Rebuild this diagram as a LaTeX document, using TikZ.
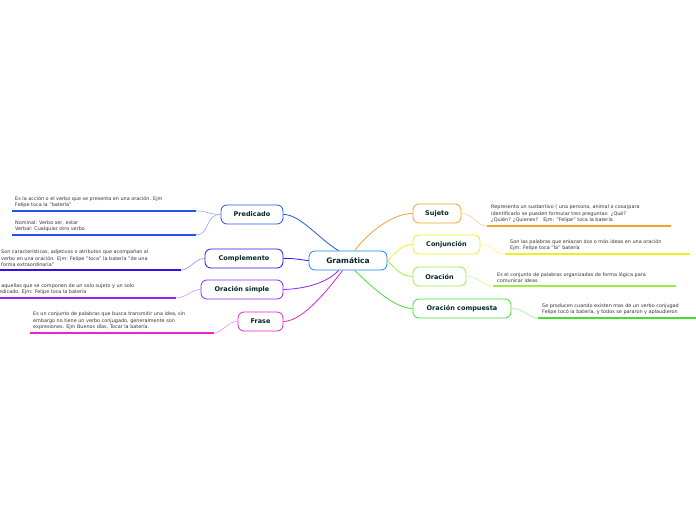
\documentclass[tikz,border=0pt]{standalone}
\usepackage{fontspec}
\setmainfont{DejaVu Sans}
\begin{document}
\begin{tikzpicture}[x=1pt,y=-1pt,
 topic/.style={draw=#1,line width=0.8pt,rounded corners=6pt,fill=white,minimum height=19pt,font=\fontsize{6.5}{8}\selectfont\bfseries,text=black!70!teal,inner xsep=8pt},
 desc/.style={anchor=south west,align=left,font=\fontsize{4.9}{6.6}\selectfont,text=black!80,inner sep=1pt},
 ul/.style={draw=#1,line width=1.2pt}]
\useasboundingbox (0,0) rectangle (696,520);
\definecolor{cpred}{HTML}{2255EE}
\definecolor{ccomp}{HTML}{3311EE}
\definecolor{csimp}{HTML}{9922EE}
\definecolor{cfra}{HTML}{EE22CC}
\definecolor{csuj}{HTML}{F5A030}
\definecolor{cconj}{HTML}{EEEE22}
\definecolor{cora}{HTML}{99EE44}
\definecolor{ccmp}{HTML}{44DD33}
\node[topic=cpred!70!cyan,minimum width=78pt,font=\fontsize{7.5}{9}\selectfont\bfseries] (g) at (348,260.5) {Gramática};
\node[topic=cpred,minimum width=62pt] (pred) at (252,214.5) {Predicado};
\node[topic=ccomp,minimum width=78pt] (comp) at (244,258.5) {Complemento};
\node[topic=csimp,minimum width=82pt] (simp) at (242,289.5) {Oración simple};
\node[topic=cfra,minimum width=45pt] (fra) at (260.5,321.5) {Frase};
\node[topic=csuj,minimum width=48pt] (suj) at (437,213.5) {Sujeto};
\node[topic=cconj,minimum width=67pt] (conj) at (446.5,244.5) {Conjunción};
\node[topic=cora,minimum width=53pt] (ora) at (439.5,276.5) {Oración};
\node[topic=ccmp,minimum width=98pt] (cmp) at (462,308.5) {Oración compuesta};
% connectors
\begin{scope}[line width=0.8pt]
\draw[cpred] (g.north west)++(30,0) .. controls (320,240) and (300,214) .. (pred.east);
\draw[ccomp] (g.west) .. controls (300,260) and (295,258) .. (comp.east);
\draw[csimp] (g.south west)++(30,0) .. controls (325,285) and (300,289) .. (simp.east);
\draw[cfra] (g.south west)++(34,0) .. controls (320,300) and (300,321) .. (fra.east);
\draw[csuj] (g.north west)++(46,0) .. controls (370,230) and (395,213) .. (suj.west);
\draw[cconj] (g.east) .. controls (395,255) and (400,244) .. (conj.west);
\draw[cora] (g.east) .. controls (395,268) and (400,276) .. (ora.west);
\draw[ccmp] (g.south west)++(46,0) .. controls (375,290) and (395,308) .. (cmp.west);
\end{scope}
% underlines and texts
\coordinate (p1a) at (196,211); \coordinate (p1b) at (12,211);
\coordinate (p2a) at (196,235); \coordinate (p2b) at (12,235);
\draw[ul=cpred] (p1b)--(p1a); \draw[ul=cpred] (p2b)--(p2a);
\draw[cpred!50,line width=0.6pt] (pred.west) .. controls (205,214) and (210,211) .. (p1a);
\draw[cpred!50,line width=0.6pt] (pred.west) .. controls (205,214) and (210,235) .. (p2a);
\node[desc] at (14,209) {Es la acción o el verbo que se presenta en una oración. Ejm\\Felipe toca la "batería"};
\node[desc] at (14,233) {Nominal: Verbo ser, estar\\Verbal: Cualquier otro verbo};
\coordinate (c1) at (181,270);
\draw[ul=ccomp] (0,270)--(c1);
\draw[ccomp!50,line width=0.6pt] (comp.west) .. controls (195,258) and (190,270) .. (c1);
\node[desc] at (0,268) {Son características, adjetivos o atributos que acompañan al\\verbo en una oración. Ejm: Felipe "toca" la batería "de una\\forma extraordinaria"};
\coordinate (s1) at (176,298);
\draw[ul=csimp] (0,298)--(s1);
\draw[csimp!50,line width=0.6pt] (simp.west) .. controls (192,289) and (186,298) .. (s1);
\node[desc] at (-4,296) {s aquellas que se componen de un solo sujeto y un solo\\redicado. Ejm: Felipe toca la batería};
\coordinate (f1) at (214,333);
\draw[ul=cfra] (30,333)--(f1);
\draw[cfra!50,line width=0.6pt] (fra.west) .. controls (228,321) and (222,333) .. (f1);
\node[desc] at (32,331) {Es un conjunto de palabras que busca transmitir una idea, sin\\embargo no tiene un verbo conjugado, generalmente son\\expresiones. Ejm Buenos días, Tocar la batería.};
\coordinate (r1) at (487,226);
\draw[ul=csuj] (r1)--(671,226);
\draw[csuj!50,line width=0.6pt] (suj.east) .. controls (472,213) and (477,226) .. (r1);
\node[desc] at (490,224) {Representa un sustantivo ( una persona, animal o cosa)para\\identificarlo se pueden formular tres preguntas: ¿Qué?\\¿Quién? ¿Quienes? \ \ Ejm: "Felipe" toca la batería};
\coordinate (r2) at (505,254);
\draw[ul=cconj] (r2)--(690,254);
\draw[cconj!50,line width=0.6pt] (conj.east) .. controls (492,244) and (495,254) .. (r2);
\node[desc] at (509,252) {Son las palabras que enlazan dos o más ideas en una oración\\Ejm: Felipe toca "la" batería};
\coordinate (r3) at (493,286);
\draw[ul=cora] (r3)--(676,286);
\draw[cora!50,line width=0.6pt] (ora.east) .. controls (478,276) and (483,286) .. (r3);
\node[desc] at (496,284) {Es el conjunto de palabras organizadas de forma lógica para\\comunicar ideas};
\coordinate (r4) at (538,318);
\draw[ul=ccmp] (r4)--(696,318);
\draw[ccmp!50,line width=0.6pt] (cmp.east) .. controls (524,308) and (528,318) .. (r4);
\node[desc] at (541,316) {Se producen cuando existen mas de un verbo conjugad\\Felipe tocó la batería, y todos se pararon y aplaudieron};
\end{tikzpicture}
\end{document}
